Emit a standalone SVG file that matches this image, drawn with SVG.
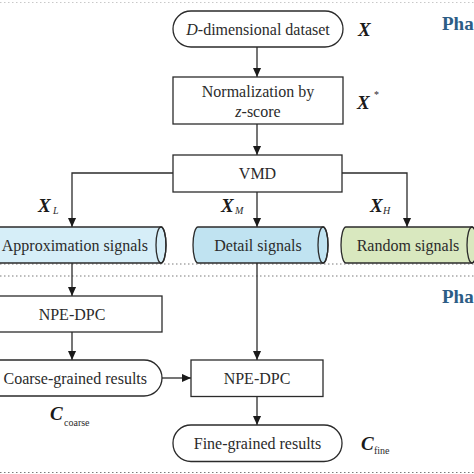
<svg xmlns="http://www.w3.org/2000/svg" width="474" height="474" viewBox="0 0 474 474">
<defs>
<style>
.t{font-family:"Liberation Serif","Times New Roman",serif;font-size:16px;fill:#2b2b2b}
.v{font-family:"Liberation Serif","Times New Roman",serif;font-size:19px;font-weight:bold;font-style:italic;fill:#1a1a1a}
.s{font-family:"Liberation Serif","Times New Roman",serif;font-size:10px;fill:#2b2b2b}
.si{font-family:"Liberation Serif","Times New Roman",serif;font-size:10px;font-style:italic;fill:#2b2b2b}
.ph{font-family:"Liberation Serif","Times New Roman",serif;font-size:19px;font-weight:bold;fill:#2c5d85}
.box{fill:#fff;stroke:#2b2b2b;stroke-width:1.3}
.ln{fill:none;stroke:#2b2b2b;stroke-width:1.3}
.dot{fill:none;stroke:#7a7a7a;stroke-width:1.2;stroke-dasharray:1.5 2.5}
</style>
<marker id="a" viewBox="0 0 10 10" refX="10" refY="5" markerWidth="9" markerHeight="9" orient="auto" markerUnits="userSpaceOnUse">
<path d="M0,0.5 L10,5 L0,9.5 Z" fill="#1a1a1a"/>
</marker>
</defs>
<rect width="474" height="474" fill="#fff"/>
<g id="separators">
<line class="dot" x1="0" y1="2.5" x2="474" y2="2.5" style="stroke:#c8c8c8"/>
<line class="dot" x1="0" y1="264" x2="474" y2="264"/>
<line class="dot" x1="0" y1="276" x2="474" y2="276"/>
<line class="dot" x1="0" y1="472.5" x2="474" y2="472.5"/>
</g>
<g id="connectors">
<line class="ln" x1="257" y1="47" x2="257" y2="77" marker-end="url(#a)"/>
<line class="ln" x1="257" y1="124" x2="257" y2="155" marker-end="url(#a)"/>
<polyline class="ln" points="173,173 72,173 72,227" marker-end="url(#a)"/>
<polyline class="ln" points="342,173 407,173 407,227" marker-end="url(#a)"/>
<line class="ln" x1="257" y1="192" x2="257" y2="227" marker-end="url(#a)"/>
<line class="ln" x1="72" y1="263" x2="72" y2="296" marker-end="url(#a)"/>
<line class="ln" x1="72" y1="332" x2="72" y2="360" marker-end="url(#a)"/>
<line class="ln" x1="257" y1="263" x2="257" y2="360" marker-end="url(#a)"/>
<line class="ln" x1="162" y1="378" x2="191" y2="378" marker-end="url(#a)"/>
<line class="ln" x1="257" y1="397" x2="257" y2="425" marker-end="url(#a)"/>
</g>
<g id="dataset">
<rect class="box" x="173" y="11" width="170" height="36" rx="18"/>
<text class="t" x="258" y="34.5" text-anchor="middle"><tspan font-style="italic">D</tspan>-dimensional dataset</text>
<text class="v" x="358" y="36">X</text>
</g>
<g id="normalization">
<rect class="box" x="173" y="77" width="170" height="47"/>
<text class="t" x="258" y="97" text-anchor="middle">Normalization by</text>
<text class="t" x="258" y="117" text-anchor="middle"><tspan font-style="italic">z</tspan>-score</text>
<text class="v" x="357" y="109">X</text>
<text class="s" x="374" y="98">*</text>
</g>
<g id="vmd">
<rect class="box" x="173" y="155" width="169" height="37"/>
<text class="t" x="257.5" y="179" text-anchor="middle">VMD</text>
</g>
<g id="approximation">
<path d="M-10,227 L161,227 A5,18 0 0 1 161,263 L-10,263 Z" fill="#d6eef8" stroke="#2b2b2b" stroke-width="1.3"/>
<ellipse cx="161" cy="245" rx="5" ry="18" fill="none" stroke="#2b2b2b" stroke-width="1.3"/>
<text class="t" x="148" y="251" text-anchor="end">Approximation signals</text>
<text class="v" x="38" y="212">X</text>
<text class="si" x="53" y="214">L</text>
</g>
<g id="detail">
<path d="M198,227 L323,227 A5,18 0 0 1 323,263 L198,263 A5,18 0 0 1 198,227 Z" fill="#c0e3f1" stroke="#2b2b2b" stroke-width="1.3"/>
<ellipse cx="323" cy="245" rx="5" ry="18" fill="none" stroke="#2b2b2b" stroke-width="1.3"/>
<text class="t" x="258" y="251" text-anchor="middle">Detail signals</text>
<text class="v" x="221" y="212">X</text>
<text class="si" x="235" y="214">M</text>
</g>
<g id="random">
<path d="M346,227 L472,227 A5,18 0 0 1 472,263 L346,263 A5,18 0 0 1 346,227 Z" fill="#d9e8bf" stroke="#2b2b2b" stroke-width="1.3"/>
<ellipse cx="472" cy="245" rx="5" ry="18" fill="none" stroke="#2b2b2b" stroke-width="1.3"/>
<text class="t" x="408" y="251" text-anchor="middle">Random signals</text>
<text class="v" x="370" y="212">X</text>
<text class="si" x="383" y="214">H</text>
</g>
<g id="npe-dpc-1">
<rect class="box" x="-5" y="296" width="167" height="36"/>
<text class="t" x="72" y="320" text-anchor="middle">NPE-DPC</text>
</g>
<g id="coarse">
<path d="M-5,360 L144,360 A18,18 0 0 1 144,396 L-5,396 Z" class="box"/>
<text class="t" x="147" y="384" text-anchor="end">Coarse-grained results</text>
<text class="v" x="50" y="420">C</text>
<text class="s" x="64" y="425.5">coarse</text>
</g>
<g id="npe-dpc-2">
<rect class="box" x="191" y="360" width="132" height="36.5"/>
<text class="t" x="257" y="384" text-anchor="middle">NPE-DPC</text>
</g>
<g id="fine">
<rect class="box" x="173" y="425" width="169" height="36.5" rx="18"/>
<text class="t" x="257.5" y="449" text-anchor="middle">Fine-grained results</text>
<text class="v" x="361" y="450">C</text>
<text class="s" x="374" y="454">fine</text>
</g>
<g id="phases">
<text class="ph" x="442" y="30">Pha</text>
<text class="ph" x="442" y="303">Pha</text>
</g>
</svg>
